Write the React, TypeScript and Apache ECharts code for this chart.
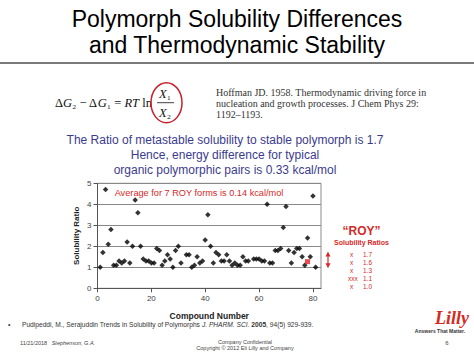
import React, { useEffect, useRef } from "react";
import * as echarts from "echarts";

const compoundNumbers = [
  1, 2, 3, 4, 5, 6, 7, 8, 9, 10, 11, 12, 13, 14, 15, 16, 17, 18, 19, 20, 21, 22, 23, 24, 25, 26, 27, 28, 29, 30, 31,
  33, 34, 35, 36, 37, 38, 39, 40, 41, 42, 43, 44, 45, 46, 47, 48, 49, 50, 51, 52, 53, 54, 55, 56,
  58, 59, 60, 61, 62, 63, 64, 65, 66, 67, 68, 69, 70, 71, 72, 73, 74, 75, 76, 77, 78, 79, 80, 81,
];
const solubilityRatios = [
  1.0, 1.7, 4.7, 2.1, 2.8, 1.1, 1.1, 1.3, 1.2, 1.3, 2.2, 1.2, 2.0, 4.2, 3.6, 2.0, 1.4, 1.3, 1.3, 1.2, 1.2, 1.9, 1.8, 1.1, 1.3, 1.6, 1.4, 1.0, 1.8, 2.0, 1.2,
  1.6, 1.6, 1.0, 1.1, 1.5, 1.2, 1.3, 2.3, 3.5, 2.0, 1.2, 1.7, 1.6, 1.3, 1.3, 1.6, 1.3, 1.1, 1.2, 1.1, 1.1, 1.5, 1.3, 1.3,
  1.4, 1.4, 1.4, 1.3, 1.3, 4.0, 1.2, 1.2, 1.8, 1.8, 1.9, 2.9, 3.9, 1.8, 1.2, 1.7, 1.9, 1.9, 1.5, 1.1, 2.4, 1.5, 4.4, 1.0,
];
const royCompound = [78];
const royAverage = [1.27];
const royRatioLabels = ["1.7", "1.6", "1.3", "1.1", "1.0"];
const royCountMarks = ["x", "x", "x", "xxx", "x"];
const royRange = [1.0, 1.7];
const xTicks = [0, 20, 40, 60, 80];

const SANS = "'Liberation Sans', Arial, sans-serif";
const SERIF = "'Liberation Serif', 'Times New Roman', serif";
const RED = "#d42a2a";

function staticGraphics(): any[] {
  const g: any[] = [];
  const txt = (x: number, y: number, text: string, o: any = {}) => ({
    type: "text",
    x,
    y,
    silent: true,
    style: {
      text,
      fill: o.fill || "#000",
      fontSize: o.fontSize || 10,
      fontFamily: o.fontFamily || SANS,
      fontWeight: o.fontWeight || "normal",
      fontStyle: o.fontStyle || "normal",
      align: o.align || "left",
      verticalAlign: o.verticalAlign || "middle",
      rich: o.rich,
    },
  });
  // Title
  g.push(txt(237, 18.7, "Polymorph Solubility Differences", { fontSize: 23, align: "center" }));
  g.push(txt(237, 45.3, "and Thermodynamic Stability", { fontSize: 23, align: "center" }));
  g.push({ type: "line", silent: true, shape: { x1: 0, y1: 63, x2: 474, y2: 63 }, style: { stroke: "#7a7a7a", lineWidth: 2 } });
  // Formula
  const fr = {
    n: { fontFamily: SERIF, fontSize: 12.5, fill: "#111" },
    i: { fontFamily: SERIF, fontSize: 12.5, fontStyle: "italic", fill: "#111" },
  };
  g.push(txt(55, 102.5, "{n|Δ}{i|G}{n|₂ − Δ}{i|G}{n|₁ = }{i|RT}{n| ln}", { fontFamily: SERIF, fontSize: 12.5, rich: fr }));
  g.push(txt(165, 93.5, "{i|X}{n|₁}", { align: "center", fontFamily: SERIF, fontSize: 12.5, rich: fr }));
  g.push(txt(165, 112.5, "{i|X}{n|₂}", { align: "center", fontFamily: SERIF, fontSize: 12.5, rich: fr }));
  g.push({ type: "line", silent: true, shape: { x1: 157, y1: 102.7, x2: 174, y2: 102.7 }, style: { stroke: "#111", lineWidth: 0.8 } });
  g.push({ type: "ellipse", silent: true, shape: { cx: 166.5, cy: 102.7, rx: 15.5, ry: 20 }, style: { fill: "none", stroke: "#c8202a", lineWidth: 1.5 } });
  // Citation
  const cit = ["Hoffman JD. 1958. Thermodynamic driving force in", "nucleation and growth processes. J Chem Phys 29:", "1192–1193."];
  cit.forEach((c, i) => g.push(txt(216, 92.3 + i * 11, c, { fontFamily: SERIF, fontSize: 10, fill: "#333" })));
  // Blue text
  const blue = [
    "The Ratio of metastable solubility to stable polymorph is 1.7",
    "Hence, energy difference for typical",
    "organic polymorphic pairs is 0.33 kcal/mol",
  ];
  blue.forEach((b, i) => g.push(txt(225, 140 + i * 15, b, { fontSize: 12, align: "center", fill: "#3b3b8e" })));
  // Chart annotation
  g.push(txt(199, 193.3, "Average for 7 ROY forms is 0.14 kcal/mol", { fontSize: 9.2, align: "center", fill: RED }));
  // ROY box
  g.push(txt(361.5, 230.5, "“ROY”", { fontSize: 12, fontWeight: "bold", align: "center", fill: RED }));
  g.push(txt(361.5, 242.3, "Solubility Ratios", { fontSize: 7, fontWeight: "bold", align: "center", fill: RED }));
  royRatioLabels.forEach((r, i) => {
    const y = 254 + i * 8.2;
    g.push(txt(royCountMarks[i].length > 1 ? 348 : 350, y, royCountMarks[i], { fontSize: 6.5, fill: RED }));
    g.push(txt(363, y, r, { fontSize: 6.5, fill: RED }));
  });
  // Footer
  g.push(txt(8, 324, "•", { fontSize: 7, fill: "#333" }));
  g.push(
    txt(22, 324, "{n|Pudipeddi, M., Serajuddin Trends in Solubility of Polymorphs }{i|J. PHARM. SCI.}{n| }{b|2005}{n|, 94(5) 929-939.}", {
      fontSize: 6.65,
      rich: {
        n: { fontFamily: SANS, fontSize: 6.65, fill: "#333" },
        i: { fontFamily: SANS, fontSize: 6.65, fontStyle: "italic", fill: "#333" },
        b: { fontFamily: SANS, fontSize: 6.65, fontWeight: "bold", fill: "#333" },
      },
    })
  );
  g.push(
    txt(20, 343, "{n|11/21/2018   }{i|Stephenson, G.A.}", {
      fontSize: 5.5,
      rich: {
        n: { fontFamily: SANS, fontSize: 5.5, fill: "#444" },
        i: { fontFamily: SANS, fontSize: 5.5, fontStyle: "italic", fill: "#444" },
      },
    })
  );
  g.push(txt(245, 341.5, "Company Confidential", { fontSize: 5.5, align: "center", fill: "#444" }));
  g.push(txt(245, 348.3, "Copyright © 2012 Eli Lilly and Company", { fontSize: 5.5, align: "center", fill: "#444" }));
  g.push(txt(447, 342.5, "6", { fontSize: 6, align: "center", fill: "#444" }));
  // Logo
  g.push(txt(452, 318, "Lilly", { fontFamily: SERIF, fontSize: 18, fontStyle: "italic", fontWeight: "bold", align: "center", fill: "#d52b1e" }));
  g.push(txt(440, 331, "Answers That Matter.", { fontSize: 5, fontWeight: "bold", align: "center", fill: "#333" }));
  return g;
}

export default function App() {
  const ref = useRef<HTMLDivElement>(null);
  useEffect(() => {
    if (!ref.current) return;
    const chart = echarts.init(ref.current, null, { renderer: "svg" });
    const data = compoundNumbers.map((c, i) => [c, solubilityRatios[i]]);
    const royData = royCompound.map((c, i) => [c, royAverage[i]]);
    const base: any = {
      animation: false,
      backgroundColor: "#fff",
      grid: {
        left: 97.5,
        top: 183.3,
        width: 223.5,
        height: 105,
        show: true,
        borderColor: "#8a8a8a",
        borderWidth: 1,
        containLabel: false,
      },
      xAxis: {
        type: "value",
        min: 0,
        max: 83,
        interval: 20,
        name: "Compound Number",
        nameLocation: "middle",
        nameGap: 23,
        nameTextStyle: { fontFamily: SANS, fontSize: 8.5, fontWeight: "bold", color: "#222" },
        axisLine: { show: true, onZero: false, lineStyle: { color: "#555", width: 1 } },
        axisTick: { show: true, inside: false, length: 4, lineStyle: { color: "#555" } },
        axisLabel: {
          fontFamily: SANS,
          fontSize: 8,
          color: "#444",
          margin: 6,
          showMaxLabel: false,
          formatter: (v: number) => (xTicks.indexOf(v) >= 0 ? String(v) : ""),
        },
        splitLine: { show: false },
      },
      yAxis: {
        type: "value",
        min: 0,
        max: 5,
        interval: 1,
        name: "Solubility Ratio",
        nameLocation: "middle",
        nameGap: 17,
        nameTextStyle: { fontFamily: SANS, fontSize: 8, fontWeight: "bold", color: "#222" },
        axisLine: { show: true, lineStyle: { color: "#555", width: 1 } },
        axisTick: { show: true, inside: false, length: 4, lineStyle: { color: "#555" } },
        axisLabel: { fontFamily: SANS, fontSize: 8, color: "#444", margin: 6 },
        splitLine: { show: true, lineStyle: { color: "#888", width: 1 } },
      },
      series: [
        {
          type: "scatter",
          data,
          symbol: "diamond",
          symbolSize: 5.5,
          itemStyle: { color: "#000" },
          silent: true,
        },
        {
          type: "scatter",
          data: royData,
          symbol: "rect",
          symbolSize: 5,
          itemStyle: { color: "#e0202a" },
          silent: true,
        },
      ],
      graphic: staticGraphics(),
    };
    chart.setOption(base);
    const yA = chart.convertToPixel({ yAxisIndex: 0 }, royRange[0]) as number;
    const yB = chart.convertToPixel({ yAxisIndex: 0 }, royRange[1]) as number;
    const ax = 328;
    const arrow = [
      { type: "line", silent: true, shape: { x1: ax, y1: yB + 2, x2: ax, y2: yA - 2 }, style: { stroke: "#d42a2a", lineWidth: 1.2 } },
      { type: "polygon", silent: true, shape: { points: [[ax, yB - 1], [ax - 2.5, yB + 4], [ax + 2.5, yB + 4]] }, style: { fill: "#d42a2a" } },
      { type: "polygon", silent: true, shape: { points: [[ax, yA + 1], [ax - 2.5, yA - 4], [ax + 2.5, yA - 4]] }, style: { fill: "#d42a2a" } },
    ];
    chart.setOption({ graphic: [...staticGraphics(), ...arrow] });
    return () => chart.dispose();
  }, []);
  return <div ref={ref} style={{ position: "absolute", left: 0, top: 0, width: 474, height: 355 }} />;
}
